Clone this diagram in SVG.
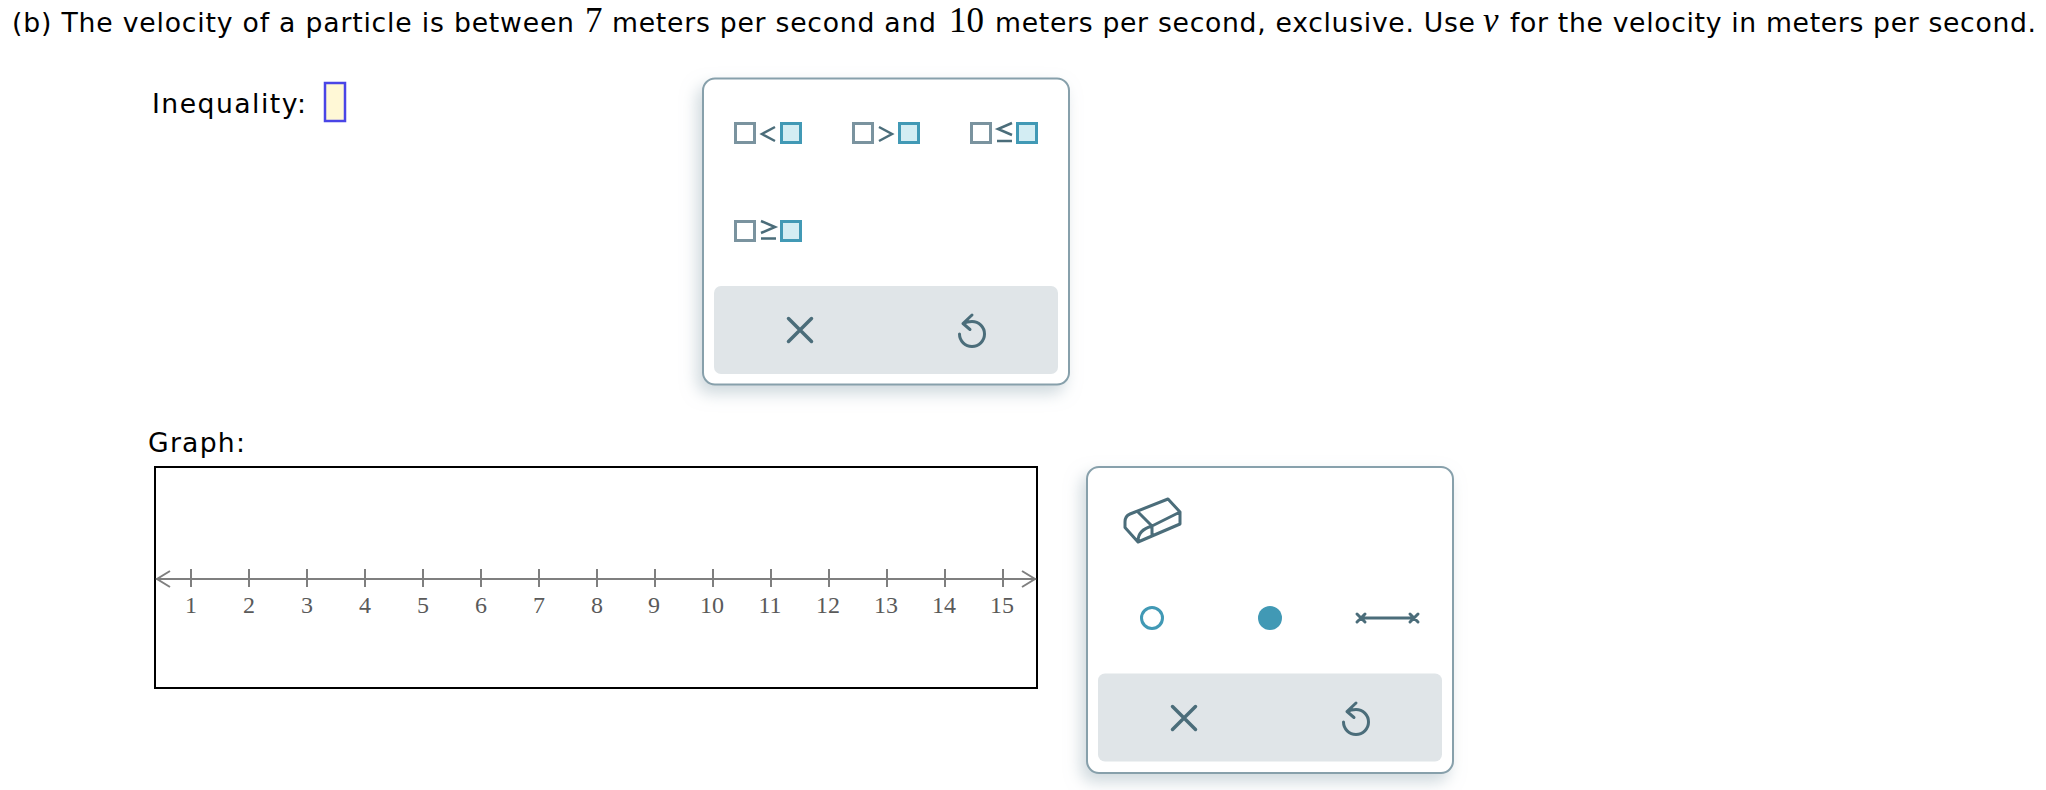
<svg xmlns="http://www.w3.org/2000/svg" width="2046" height="790" viewBox="0 0 2046 790">
<style>
.t{font-family:"DejaVu Sans",sans-serif;font-size:26.67px;fill:#000}
.m{font-family:"Liberation Serif",serif;font-size:35px;fill:#000}
.n{font-family:"Liberation Serif",serif;font-size:24px;fill:#5a5a5a;text-anchor:middle}
.panel{fill:#fff;stroke:#87a0ab;stroke-width:2;filter:url(#sh)}
.bar{fill:#e0e5e8}
.o{fill:#fff;stroke:#7a939f;stroke-width:3}
.b{fill:#d3edf3;stroke:#4199b5;stroke-width:3}
.i{fill:none;stroke:#4b6d7a;stroke-width:3;stroke-linecap:round;stroke-linejoin:round}
.s{fill:none;stroke:#4b6d7a;stroke-width:2.500}
.a{stroke:#7f7f7f;stroke-width:2;fill:none}
</style>
<defs>
<filter id="sh" x="-15%" y="-15%" width="130%" height="130%"><feDropShadow dx="-5" dy="8" stdDeviation="8" flood-color="#9fb2bb" flood-opacity=".5"/></filter>
<g id="x"><path class="i" style="stroke-width:3.500" d="M-11.500-11.500L11.500 11.500M11.500-11.500L-11.500 11.500"/></g>
<g id="u"><path class="i" d="M0-19L-9-10.500L-2-4.500M-9-10.500Q-5-12.500 0-12.500A12.500 12.500 0 1 1-12.500 0"/></g>
<g id="sq"><rect class="o" x="1.500" y="1.500" width="19" height="19"/></g>
<g id="tq"><rect class="b" x="1.500" y="1.500" width="19" height="19"/></g>
</defs>
<rect width="2046" height="790" fill="#fff"/>
<g id="question">
<text class="t" x="12" y="32" textLength="562" lengthAdjust="spacing">(b) The velocity of a particle is between</text>
<text class="m" x="585" y="32">7</text>
<text class="t" x="612" y="32" textLength="324" lengthAdjust="spacing">meters per second and</text>
<text class="m" x="949" y="32">10</text>
<text class="t" x="995" y="32" textLength="480" lengthAdjust="spacing">meters per second, exclusive. Use</text>
<text class="m" x="1483" y="32" font-style="italic">v</text>
<text class="t" x="1510" y="32" textLength="526" lengthAdjust="spacing">for the velocity in meters per second.</text>
</g>
<g id="inequality-label"><text class="t" x="152" y="113" textLength="154" lengthAdjust="spacing">Inequality:</text></g>
<g id="answer-box"><rect x="325" y="83" width="20" height="38" fill="#fff8d6" stroke="#4a45e6" stroke-width="2.500"/></g>
<g id="graph-label"><text class="t" x="148" y="452" textLength="97" lengthAdjust="spacing">Graph:</text></g>
<g id="inequality-panel">
<rect class="panel" x="703" y="78.500" width="366" height="306" rx="12"/>
<use href="#sq" x="734" y="122"/><use href="#tq" x="780" y="122"/><path class="s" d="M775 127L762 134L775 141"/>
<use href="#sq" x="852" y="122"/><use href="#tq" x="898" y="122"/><path class="s" d="M879 127L892 134L879 141"/>
<use href="#sq" x="970" y="122"/><use href="#tq" x="1016" y="122"/><path class="s" d="M1012 123L998 129L1012 135M997 141H1012"/>
<use href="#sq" x="734" y="220"/><use href="#tq" x="780" y="220"/><path class="s" d="M761 221L775 227L761 233M761 238.500H776"/>
<rect class="bar" x="714" y="286" width="344" height="88" rx="7"/>
<use href="#x" x="800" y="330"/><use href="#u" x="972" y="334"/>
</g>
<g id="number-line">
<rect x="155" y="467" width="882" height="221" fill="#fff" stroke="#000" stroke-width="2"/>
<path class="a" d="M156 579H1036M170 571L157 579L170 587M1022 571L1035 579L1022 587"/>
<path class="a" d="M191 569v18M249 569v18M307 569v18M365 569v18M423 569v18M481 569v18M539 569v18M597 569v18M655 569v18M713 569v18M771 569v18M829 569v18M887 569v18M945 569v18M1003 569v18"/>
<text class="n" x="191" y="613">1</text><text class="n" x="249" y="613">2</text><text class="n" x="307" y="613">3</text><text class="n" x="365" y="613">4</text><text class="n" x="423" y="613">5</text><text class="n" x="481" y="613">6</text><text class="n" x="539" y="613">7</text><text class="n" x="597" y="613">8</text><text class="n" x="654" y="613">9</text><text class="n" x="712" y="613">10</text><text class="n" x="770" y="613">11</text><text class="n" x="828" y="613">12</text><text class="n" x="886" y="613">13</text><text class="n" x="944" y="613">14</text><text class="n" x="1002" y="613">15</text>
</g>
<g id="graph-panel">
<rect class="panel" x="1087" y="467" width="366" height="306" rx="12"/>
<path class="i" d="M1168 499L1180 512V524L1138 542L1125 527.500V522Q1125 516 1130 514ZM1138 512L1152 526L1180 512M1152 526V536M1138 541Q1138 530 1152 526"/>
<circle cx="1152" cy="618" r="10.500" fill="#fff" stroke="#4199b5" stroke-width="3"/>
<circle cx="1270" cy="618" r="12" fill="#4199b5"/>
<path class="i" d="M1360 618H1414M1357 614L1365 622M1365 614L1357 622M1410 614L1418 622M1418 614L1410 622"/>
<rect class="bar" x="1098" y="673.500" width="344" height="88" rx="7"/>
<use href="#x" x="1184" y="718"/><use href="#u" x="1356" y="722"/>
</g>
</svg>
